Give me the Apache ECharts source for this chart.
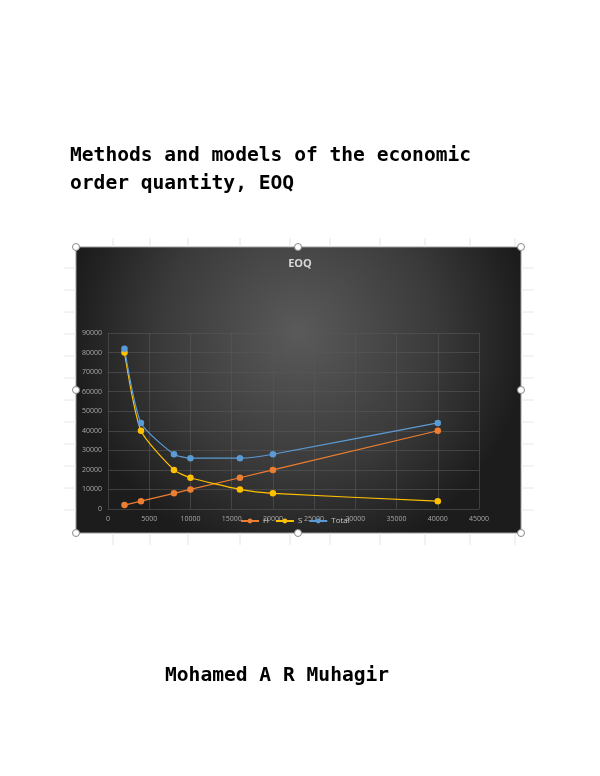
<!DOCTYPE html>
<html><head><meta charset="utf-8">
<script src="https://cdn.jsdelivr.net/npm/echarts@6/dist/echarts.min.js"></script>
<style>html,body{margin:0;padding:0;background:#fff}#c{width:600px;height:776px}</style>
</head><body><div id="c"></div>
<script>
const orderQty = [2000, 4000, 8000, 10000, 16000, 20000, 40000];
const holdingH = [2000, 4000, 8000, 10000, 16000, 20000, 40000];
const orderingS = [80000, 40000, 20000, 16000, 10000, 8000, 4000];
const totalCost = [82000, 44000, 28000, 26000, 26000, 28000, 44000];
const seriesNames = ['H', 'S', 'Total'];

const pair = (xs, ys) => xs.map((x, i) => [x, ys[i]]);
const chart = echarts.init(document.getElementById('c'));

const box = {x: 76, y: 247, w: 445, h: 286};
const graphics = [];
[113,150,188,240,290,330,380,425,470,515].forEach(x=>{
  graphics.push({type:'line',shape:{x1:x,y1:238,x2:x,y2:box.y},style:{stroke:'#e4e4e4',lineWidth:1},z:0});
  graphics.push({type:'line',shape:{x1:x,y1:box.y+box.h,x2:x,y2:545},style:{stroke:'#e4e4e4',lineWidth:1},z:0});
});
[268,290,312,334,356,378,400,422,444,466,488,510].forEach(y=>{
  graphics.push({type:'line',shape:{x1:64,y1:y,x2:box.x,y2:y},style:{stroke:'#e8e8e8',lineWidth:1},z:0});
  graphics.push({type:'line',shape:{x1:box.x+box.w,y1:y,x2:534,y2:y},style:{stroke:'#e8e8e8',lineWidth:1},z:0});
});
graphics.push({type:'rect',shape:{x:box.x,y:box.y,width:box.w,height:box.h},
  style:{fill:{type:'radial',x:0.5,y:0.3,r:0.8,colorStops:[{offset:0,color:'#5a5a5a'},{offset:0.6,color:'#3a3a3a'},{offset:1,color:'#1c1c1c'}]},stroke:'#9a9a9a',lineWidth:1},z:-10});
[[box.x,box.y],[298,box.y],[box.x+box.w,box.y],[box.x,390],[box.x+box.w,390],[box.x,box.y+box.h],[298,box.y+box.h],[box.x+box.w,box.y+box.h]].forEach(p=>{
  graphics.push({type:'circle',shape:{cx:p[0],cy:p[1],r:3.5},style:{fill:'#fff',stroke:'#8a8a8a',lineWidth:1},z:100});
});

const mono = 'DejaVu Sans Mono';
chart.setOption({
  backgroundColor: '#ffffff',
  animation: false,
  title: [
    {text:'Methods and models of the economic\norder quantity, EOQ', left:70, top:142, padding:0,
     textStyle:{fontFamily:mono, fontWeight:'bold', fontSize:19.6, color:'#000', lineHeight:28}},
    {text:'EOQ', left:'center', top:258, padding:0, textStyle:{fontFamily:'Open Sans', fontWeight:'bold', fontSize:11, color:'#d8d8d8'}},
    {text:'Mohamed A R Muhagir', left:165, top:666, padding:0,
     textStyle:{fontFamily:mono, fontWeight:'bold', fontSize:19.6, color:'#000'}}
  ],
  graphic: graphics,
  legend: {
    data: seriesNames, left: 240, top: 517, padding:0, itemWidth: 18, itemHeight: 6, itemGap: 6,
    textStyle:{color:'#c4c4c4', fontSize:8, fontFamily:'Open Sans', padding:[0,0,0,-1]}
  },
  grid: {left:108, right:121, top:333, bottom:267},
  xAxis: {type:'value', min:0, max:45000, interval:5000,
    axisLine:{show:false}, axisTick:{show:false},
    splitLine:{lineStyle:{color:'#585858', width:0.6}},
    axisLabel:{color:'#a8a8a8', fontSize:7, margin:6, fontFamily:'Open Sans', formatter: v => String(v)}},
  yAxis: {type:'value', min:0, max:90000, interval:10000,
    axisLine:{show:false}, axisTick:{show:false},
    splitLine:{lineStyle:{color:'#585858', width:0.6}},
    axisLabel:{color:'#a8a8a8', fontSize:7, margin:6, fontFamily:'Open Sans', formatter: v => String(v)}},
  series: [
    {name:'H', type:'line', data:pair(orderQty, holdingH), color:'#ed7d31',
     symbol:'circle', symbolSize:6.5, lineStyle:{width:1.2}},
    {name:'S', type:'line', data:pair(orderQty, orderingS), color:'#ffc000', smooth:0.2,
     symbol:'circle', symbolSize:6.5, lineStyle:{width:1.2}},
    {name:'Total', type:'line', data:pair(orderQty, totalCost), color:'#5b9bd5', smooth:0.2,
     symbol:'circle', symbolSize:6.5, lineStyle:{width:1.2}}
  ]
});
</script></body></html>
